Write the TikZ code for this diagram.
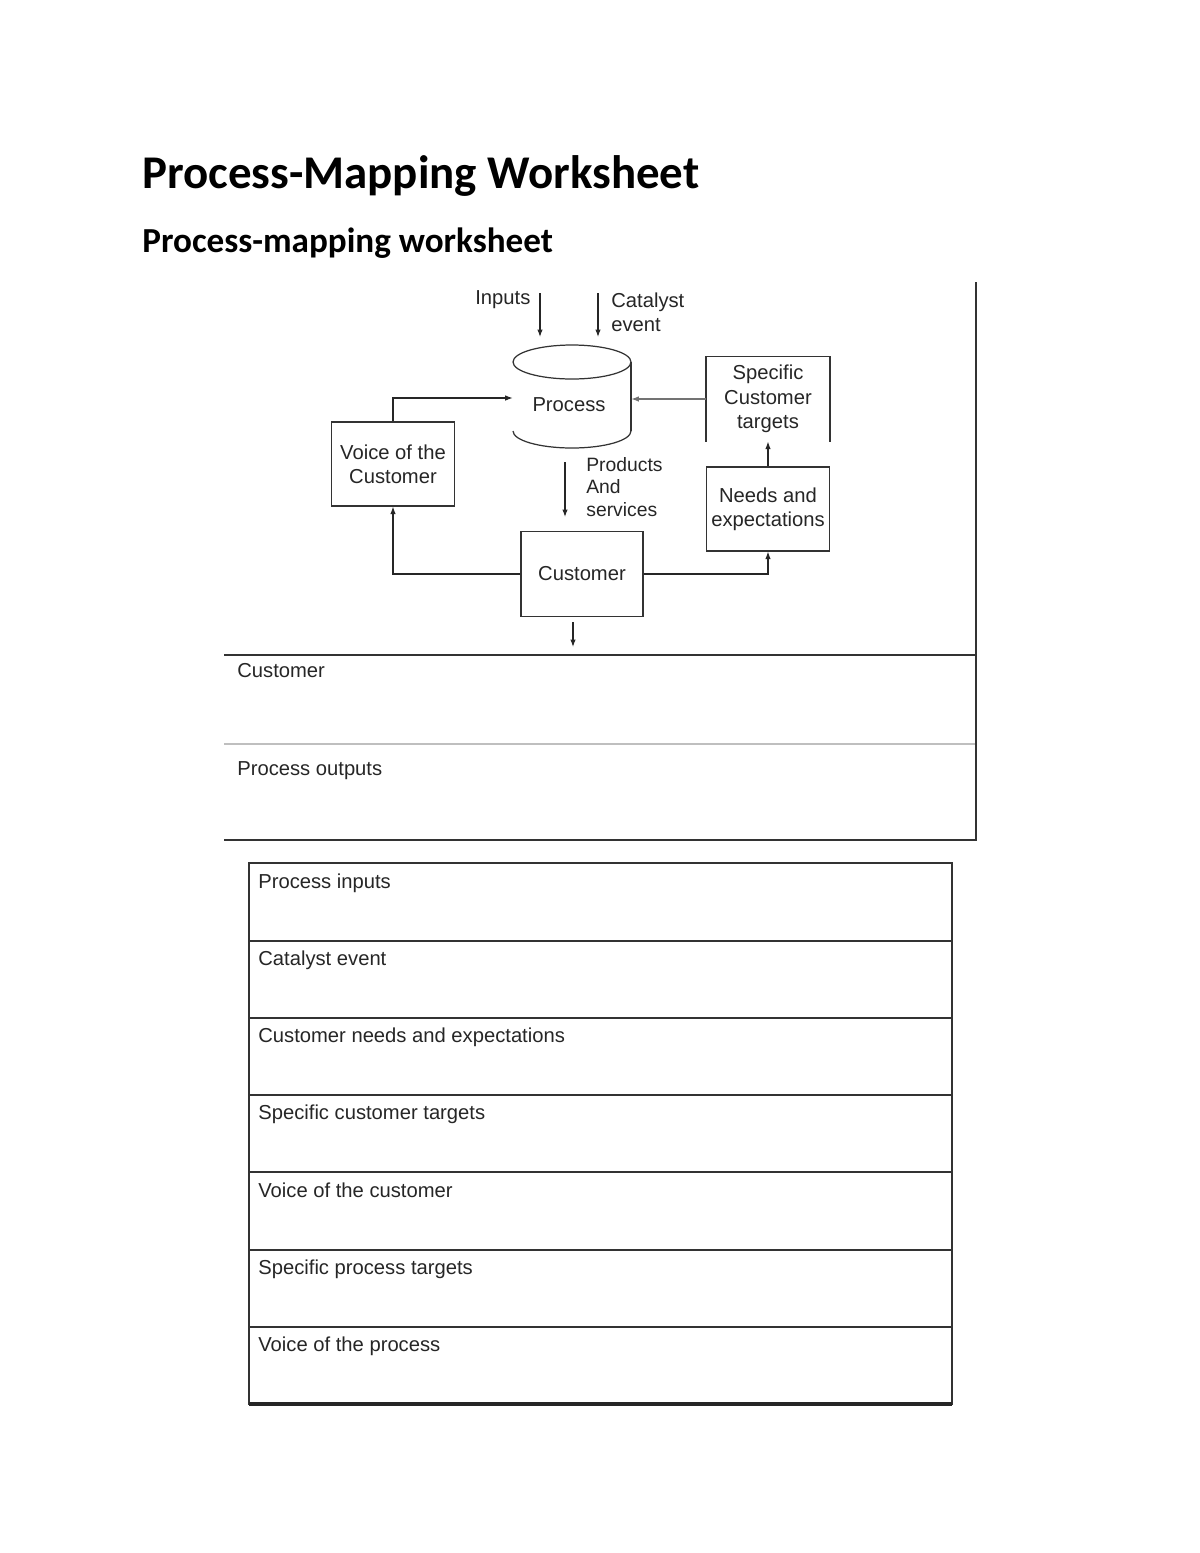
\documentclass[tikz,border=0pt]{standalone}
\usepackage{fontspec}
\setmainfont{Liberation Sans}
\newfontfamily\titlefont{Carlito}
\usetikzlibrary{arrows.meta}

\tikzset{
	txt/.style={font=\fontsize{11.5}{13.8}\selectfont, text=black!85, align=center},
	box/.style={txt, draw=black!80, line width=0.7pt, minimum width=2.46cm, minimum height=1.68cm, inner sep=2pt},
	arr/.style={-{Latex[length=1.5mm,width=1.1mm]}, draw=black!85, line width=0.6pt},
	tbl/.style={draw=black!80, line width=1.1pt},
	rowlabel/.style={txt, anchor=base west, inner sep=0pt}
}

\begin{document}
\begin{tikzpicture}[x=0.02cm, y=-0.02cm]
		\useasboundingbox [fill=white] (0,0) rectangle (1200,1553);

		% headings
		\draw (142,188) node [anchor=base west, inner sep=0pt, font=\titlefont\bfseries\fontsize{26.7}{30}\selectfont] (title) {Process-Mapping Worksheet};
		\draw (142,252) node [anchor=base west, inner sep=0pt, font=\titlefont\bfseries\fontsize{20}{24}\selectfont] (subtitle) {Process-mapping worksheet};

		% cylinder
		\draw [draw=black!80, line width=0.7pt] (572,362) ellipse [x radius=1.18cm, y radius=0.34cm];
		\draw [draw=black!80, line width=0.7pt] (631,362) -- (631,431);
		\draw [draw=black!80, line width=0.7pt] (513,431) arc [start angle=180, end angle=360, x radius=1.18cm, y radius=0.34cm];
		\draw (572,398) node [minimum width=2.36cm, minimum height=2cm, inner sep=0pt] (proc) {};
		\draw (569,405) node [txt] (proctext) {Process};

		% boxes
		\draw (393,464) node [box] (voc) {Voice of the\\Customer};
		\draw (582,574) node [box, minimum width=2.44cm, minimum height=1.7cm] (cust) {Customer};
		\draw (768,509) node [box] (needs) {Needs and\\expectations};
		\draw (768,399) node [box, draw=none] (sct) {Specific\\Customer\\targets};
		\draw [draw=black!80, line width=0.7pt] (sct.south west) |- (sct.north east) -- (sct.south east);

		% labels
		\draw (475,300) node [txt, anchor=west, inner sep=0pt] (inputs) {Inputs};
		\draw (611,312) node [txt, anchor=west, inner sep=0pt, align=left] (catalyst) {Catalyst\\event};
		\draw (586,487) node [txt, anchor=west, inner sep=0pt, align=left, font=\fontsize{11}{12.8}\selectfont] (prod) {Products\\And\\services};

		% free arrow ends
		\coordinate (in1) at (540,293);
		\coordinate (in2) at (540,337);
		\coordinate (ca1) at (598,293);
		\coordinate (ca2) at (598,337);
		\coordinate (pr1) at (565,462);
		\coordinate (pr2) at (565,517);
		\coordinate (out1) at (573,622);
		\coordinate (out2) at (573,647);

		\draw
			(in1) edge [arr] (in2)
			(ca1) edge [arr] (ca2)
			(pr1) edge [arr] (pr2)
			(out1) edge [arr] (out2)
			(needs) edge [arr] (sct)
		;
		\draw [arr, draw=black!55] (sct.west) -- (sct.west -| proc.east);
		\draw [arr] (cust.west) -| (voc.south);
		\draw [arr] (cust.east) -| (needs.south);
		\draw [arr] (voc.north) |- (proc.west);

		% upper table
		\draw [tbl] (224,655) -- (977,655);
		\draw [draw=black!25, line width=0.6pt] (224,744) -- (977,744);
		\draw [tbl] (224,840) -- (977,840);
		\draw [draw=black!80, line width=0.9pt] (976,282) -- (976,840);
		\draw (237,677) node [rowlabel] (custrow) {Customer};
		\draw (237,775) node [rowlabel] (outrow) {Process outputs};

		% lower table
		\draw [tbl] (249,863) rectangle (952,1404);
		\draw [draw=black!85, line width=1.8pt] (249,1404) -- (952,1404);
		\foreach \y in {941,1018,1095,1172,1250,1327}
			\draw [tbl] (249,\y) -- (952,\y);
		\foreach \lbl [count=\i] in {Process inputs, Catalyst event, Customer needs and expectations, Specific customer targets, Voice of the customer, Specific process targets, Voice of the process}
			\draw (258,{888+77.3*(\i-1)}) node [rowlabel] (row\i) {\lbl};
	\end{tikzpicture}
\end{document}
